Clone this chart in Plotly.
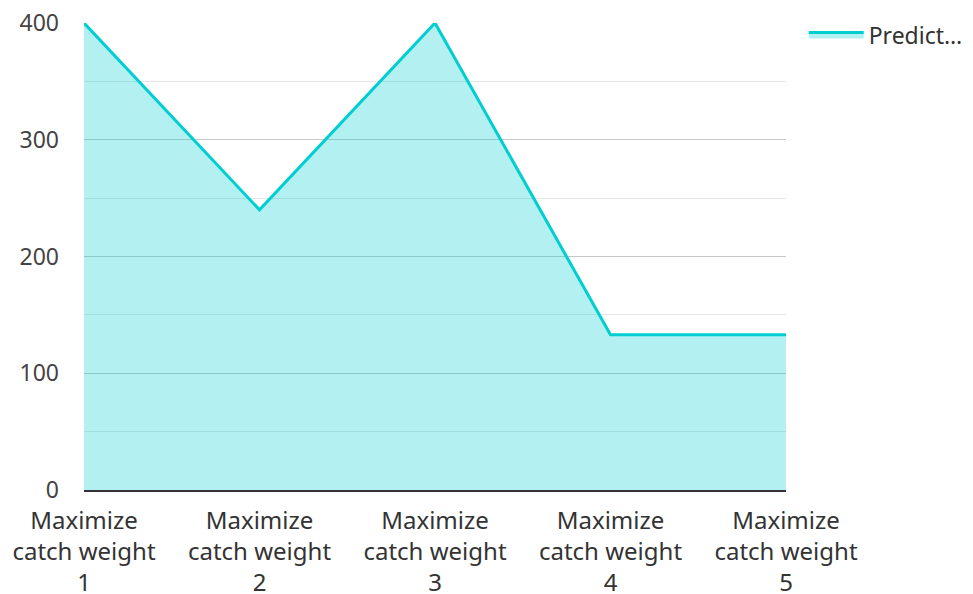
import plotly.graph_objects as go

categories = ["Maximize<br>catch weight<br>1", "Maximize<br>catch weight<br>2",
              "Maximize<br>catch weight<br>3", "Maximize<br>catch weight<br>4",
              "Maximize<br>catch weight<br>5"]
values = [400, 240, 400, 133, 133]
series_name = "Predict…"

fig = go.Figure()
fig.add_trace(go.Scatter(
    x=categories, y=values, name=series_name, mode="lines",
    line=dict(color="#00CED1", width=3),
    fill="tozeroy", fillcolor="rgba(0,206,209,0.3)",
))

fig.update_layout(
    width=973, height=594,
    margin=dict(l=84, r=187, t=23, b=104, autoexpand=False),
    paper_bgcolor="white", plot_bgcolor="white",
    font=dict(family="Noto Sans", size=23, color="#333"),
    showlegend=True,
    legend=dict(xref="container", yref="container", x=0.826, y=0.978,
                xanchor="left", yanchor="top",
                itemwidth=55, font=dict(size=23, color="#333"),
                bgcolor="rgba(0,0,0,0)"),
    xaxis=dict(type="category", range=[0, 4], showgrid=False,
               showline=True, linecolor="#333", linewidth=2,
               ticks="", ticklabelstandoff=8, automargin=False,
               tickfont=dict(size=24, color="#333")),
    yaxis=dict(range=[0, 400], dtick=100, showgrid=True, gridcolor="#c8c8c8",
               gridwidth=1, zeroline=False, showline=False, ticks="",
               ticklabelstandoff=24, automargin=False,
               tickfont=dict(size=23, color="#444"),
               minor=dict(dtick=50, showgrid=True, gridcolor="#e6e6e6", gridwidth=1)),
)

fig.write_html("out.html")
